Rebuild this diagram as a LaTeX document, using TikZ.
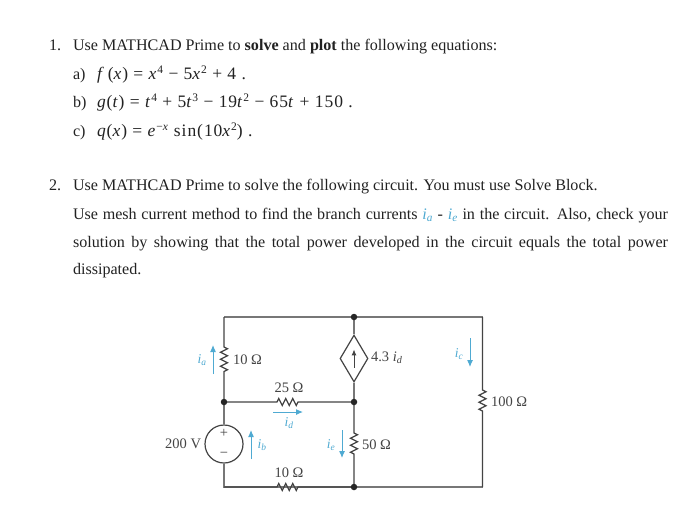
\documentclass[tikz,border=0pt]{standalone}
\usepackage{fontspec}
\setmainfont{Liberation Serif}
\usetikzlibrary{decorations.pathmorphing,arrows.meta,shapes.geometric,calc}
\definecolor{ink}{HTML}{222222}
\definecolor{cktink}{HTML}{444444}
\definecolor{wirec}{HTML}{777777}
\definecolor{curr}{HTML}{4FAAD2}
\newcommand{\ssup}[1]{\raisebox{5.5pt}{\fontsize{11.5}{12}\selectfont #1}}
\newcommand{\cursub}[2]{\textcolor{curr}{\textit{#1}\textsubscript{\textit{#2}}}}
\newcommand{\mth}{\addfontfeature{LetterSpace=5.5}\fontsize{17.5}{18}\selectfont}
\tikzset{
  x=1pt,y=-1pt,
  txt/.style={anchor=base west,inner sep=0pt,outer sep=0pt,text=ink,font=\fontsize{16.1}{18}\selectfont},
  wire/.style={draw=wirec,line width=1.2pt},
  res/.style 2 args={draw=cktink,line width=1.2pt,decorate,decoration={zigzag,amplitude=3.6pt,segment length=7pt,pre length=#1,post length=#2}},
  dotj/.style={circle,fill=black!85,inner sep=0pt,minimum size=6.5pt},
  lab/.style={inner sep=0pt,outer sep=0pt,text=cktink,font=\fontsize{14.5}{16}\selectfont},
  curl/.style={inner sep=0pt,outer sep=0pt,font=\fontsize{13.5}{15}\selectfont},
  cura/.style={draw=curr,line width=1pt,-{Latex[length=7pt,width=6pt]}},
}
\begin{document}
\begin{tikzpicture}
\useasboundingbox (0,0) rectangle (700,512);
\fill[white] (0,0) rectangle (700,512);
% Text
\node[txt] (t1n) at (49,50) {1.};
\node[txt] (t1) at (73,50) {Use MATHCAD Prime to \textbf{solve} and \textbf{plot} the following equations:};
\node[txt] (tal) at (73,79) {a)};
\node[txt] (ta) at (97,79) {\mth\textit{f}\,(\textit{x}) = \textit{x}\ssup{4} − 5\textit{x}\ssup{2} + 4 .};
\node[txt] (tbl) at (73,107) {b)};
\node[txt] (tb) at (97,107) {\mth\textit{g}(\textit{t}) = \textit{t}\ssup{4} + 5\textit{t}\ssup{3} − 19\textit{t}\ssup{2} − 65\textit{t} + 150 .};
\node[txt] (tcl) at (73,136) {c)};
\node[txt] (tc) at (97,136) {\mth\textit{q}(\textit{x}) = \textit{e}\ssup{−\textit{x}} sin(10\textit{x}\ssup{2}) .};
\node[txt] (t2n) at (49,190) {2.};
\node[txt] (t2) at (73,190) {Use MATHCAD Prime to solve the following circuit. You must use Solve Block.};
\node[txt] (t3) at (73,219) {\makebox[595pt][s]{Use mesh current method to find the branch currents \cursub{i}{a} - \cursub{i}{e} in the circuit. Also, check your}};
\node[txt] (t4) at (73,247) {\makebox[595pt][s]{solution by showing that the total power developed in the circuit equals the total power}};
\node[txt] (t5) at (73,274) {dissipated.};
% Circuit junctions
\coordinate (tl) at (224,317);
\coordinate (tm) at (354,317);
\coordinate (tr) at (482.5,317);
\coordinate (ml) at (224,402);
\coordinate (mm) at (354,402);
\coordinate (bl) at (224,487);
\coordinate (bm) at (354,487);
\coordinate (br) at (482.5,487);
\node[circle,draw=cktink,line width=1.2pt,minimum size=38pt,inner sep=0pt,fill=white] (vs) at (224,444) {};
\node[diamond,draw=cktink,line width=1.2pt,minimum width=28pt,minimum height=47pt,inner sep=0pt,aspect=0.6,fill=white] (cs) at (354,358.5) {};
% Wires
\draw[wire] (ml) -- (vs.north);
\draw[wire] (vs.south) -- (bl) -- (bm) -- (br);
\draw[wire] (tl) -- (tr);
\draw[wire] (tm) -- (cs.north);
\draw[wire] (cs.south) -- (mm);
% Resistors
\draw[res={30pt}{30pt}] (tl) -- (ml);
\draw[res={53pt}{53pt}] (ml) -- (mm);
\draw[res={31pt}{30pt}] (mm) -- (bm);
\draw[res={53pt}{53pt}] (bl) -- (bm);
\draw[res={73pt}{73pt}] (tr) -- (br);
\node[dotj] (d0) at (tm) {};
\node[dotj] (d1) at (ml) {};
\node[dotj] (d2) at (mm) {};
\node[dotj] (d3) at (bm) {};
% Inside sources
\draw[draw=cktink,line width=1pt,-{Latex[length=6pt,width=5pt]}] ($(cs.south)+(0,-15)$) coordinate (csa) -- ($(cs.north)+(0,15)$) coordinate (csb);
\node[lab] (plus) at (224,433.5) {+};
\node[lab] (minus) at (224,455) {−};
% Component labels
\node[lab,anchor=west] (l1) at (233,360) {10 Ω};
\node[lab] (l2) at (289,388) {25 Ω};
\node[lab] (l3) at (289,473) {10 Ω};
\node[lab,anchor=west] (l4) at (362,445) {50 Ω};
\node[lab,anchor=west] (l5) at (491,402) {100 Ω};
\node[lab,anchor=east] (l6) at (201,444) {200 V};
\node[lab,anchor=west] (l7) at (371,358) {4.3 \textit{i}\textsubscript{\textit{d}}};
% Currents
\node[curl,text=curr] (ia) at (202,360) {\textit{i}\textsubscript{\textit{a}}};
\node[curl,text=curr] (id) at (289,423) {\textit{i}\textsubscript{\textit{d}}};
\node[curl,text=curr] (ib) at (262,445) {\textit{i}\textsubscript{\textit{b}}};
\node[curl,text=curr] (ie) at (331,445) {\textit{i}\textsubscript{\textit{e}}};
\node[curl,text=curr] (ic) at (459,354) {\textit{i}\textsubscript{\textit{c}}};
\coordinate (a1) at (213,374); \coordinate (a2) at (213,345);
\coordinate (b1) at (251,459); \coordinate (b2) at (251,430);
\coordinate (c1) at (470,338); \coordinate (c2) at (470,367);
\coordinate (d1a) at (273,412); \coordinate (d2a) at (303,412);
\coordinate (e1) at (342,430); \coordinate (e2) at (342,458);
\draw[cura] (a1) -- (a2);
\draw[cura] (b1) -- (b2);
\draw[cura] (c1) -- (c2);
\draw[cura] (d1a) -- (d2a);
\draw[cura] (e1) -- (e2);
\end{tikzpicture}
\end{document}
